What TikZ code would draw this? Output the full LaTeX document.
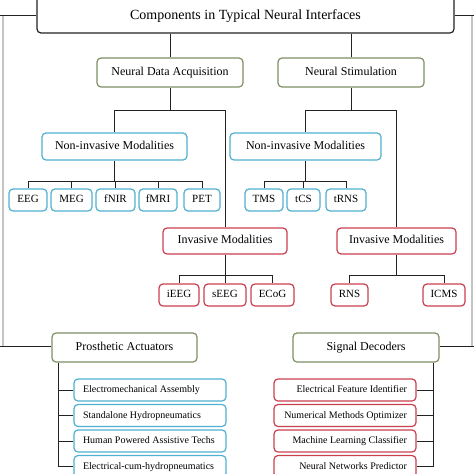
\documentclass[tikz,border=0pt]{standalone}
\usepackage{fontspec}
\setmainfont{Liberation Serif}
\definecolor{grn}{HTML}{7D8F63}
\definecolor{blu}{HTML}{4FB0D0}
\definecolor{rd}{HTML}{C9404F}
\definecolor{lnk}{HTML}{222222}
\definecolor{sidegray}{HTML}{C4C4C4}
\newcommand{\lbtext}[1]{\makebox[134pt][l]{#1}}
\newcommand{\rbtext}[1]{\makebox[124pt][r]{#1}}
\begin{document}
\begin{tikzpicture}[x=1pt,y=-1pt,
  bx/.style={draw, rounded corners=4pt, line width=1.2pt, fill=white, inner sep=0pt, text height=0.7em, text depth=0.2em},
  gbox/.style={bx, draw=grn, minimum height=29pt, font=\fontsize{12}{14}\selectfont},
  bbox/.style={bx, draw=blu, minimum height=27pt, font=\fontsize{12}{14}\selectfont},
  rbox/.style={bx, draw=rd, minimum height=26pt, font=\fontsize{12}{14}\selectfont},
  bleaf/.style={bx, draw=blu, minimum height=22pt, font=\fontsize{11}{13}\selectfont},
  rleaf/.style={bx, draw=rd, minimum height=22pt, font=\fontsize{11}{13}\selectfont},
  lbul/.style={bx, draw=blu, minimum height=22pt, minimum width=152pt, inner xsep=9pt, font=\fontsize{10}{12}\selectfont},
  rbul/.style={bx, draw=rd, minimum height=22pt, minimum width=142pt, inner xsep=9pt, font=\fontsize{10}{12}\selectfont},
  conn/.style={draw=lnk, line width=1pt},
  side/.style={draw=sidegray, line width=1.6pt}]
\useasboundingbox (0,0) rectangle (474,474);
\clip (0,0) rectangle (474,474);

% top box
\node[bx, draw=lnk, minimum width=417pt, minimum height=60pt] (top) at (245.5,3) {};
\node[font=\fontsize{14}{16}\selectfont, inner sep=0pt] (toptitle) at (245.5,16) {Components in Typical Neural Interfaces};

% level 1
\node[gbox, minimum width=146pt] (nda) at (170,72.5) {Neural Data Acquisition};
\node[gbox, minimum width=146pt] (ns) at (351,72.5) {Neural Stimulation};

% level 2
\node[bbox, minimum width=145pt] (ni1) at (114.5,146.5) {Non-invasive Modalities};
\node[bbox, minimum width=151pt] (ni2) at (305.5,146.5) {Non-invasive Modalities};
\node[rbox, minimum width=124pt] (inv1) at (225,241) {Invasive Modalities};
\node[rbox, minimum width=119pt] (inv2) at (396.5,241) {Invasive Modalities};

% leaves row 1
\node[bleaf, minimum width=38pt] (eeg) at (28,200) {EEG};
\node[bleaf, minimum width=41pt] (meg) at (71.5,200) {MEG};
\node[bleaf, minimum width=39pt] (fnir) at (115.5,200) {fNIR};
\node[bleaf, minimum width=38pt] (fmri) at (158,200) {fMRI};
\node[bleaf, minimum width=36pt] (pet) at (202,200) {PET};
\node[bleaf, minimum width=38pt] (tms) at (264,200) {TMS};
\node[bleaf, minimum width=33pt] (tcs) at (303.5,200) {tCS};
\node[bleaf, minimum width=40pt] (trns) at (346,200) {tRNS};

% leaves row 2
\node[rleaf, minimum width=40pt] (ieeg) at (179,295) {iEEG};
\node[rleaf, minimum width=42pt] (seeg) at (225,295) {sEEG};
\node[rleaf, minimum width=43pt] (ecog) at (272.5,295) {ECoG};
\node[rleaf, minimum width=37pt] (rns) at (349.5,295) {RNS};
\node[rleaf, minimum width=42pt] (icms) at (444,295) {ICMS};

% bottom groups
\node[gbox, minimum width=145pt] (pa) at (124.5,347.5) {Prosthetic Actuators};
\node[gbox, minimum width=146pt] (sd) at (366,347.5) {Signal Decoders};

\node[lbul] (pa1) at (150,390) {\lbtext{Electromechanical Assembly}};
\node[lbul] (pa2) at (150,415.5) {\lbtext{Standalone Hydropneumatics}};
\node[lbul] (pa3) at (150,441) {\lbtext{Human Powered Assistive Techs}};
\node[lbul] (pa4) at (150,466.5) {\lbtext{Electrical-cum-hydropneumatics}};

\node[rbul] (sd1) at (345,390) {\rbtext{Electrical Feature Identifier}};
\node[rbul] (sd2) at (345,415.5) {\rbtext{Numerical Methods Optimizer}};
\node[rbul] (sd3) at (345,441) {\rbtext{Machine Learning Classifier}};
\node[rbul] (sd4) at (345,466.5) {\rbtext{Neural Networks Predictor}};

% coordinates
\coordinate (b1) at (170,110);
\coordinate (b2) at (351,110);
\coordinate (b3) at (114.5,181);
\coordinate (b4) at (305.5,181);
\coordinate (b5) at (225,275);
\coordinate (b6) at (396.5,275);
\coordinate (pav) at (58,466.5);
\coordinate (sdv) at (433,466.5);
\coordinate (lt) at (0,15);
\coordinate (lb) at (0,346.5);
\coordinate (rt) at (474,15);
\coordinate (rb) at (474,346);
\coordinate (lgt) at (3,15);
\coordinate (lgb) at (3,346.5);
\coordinate (rgt) at (472,15);
\coordinate (rgb) at (472,346);

% side frame
\path[side] (lgt) -- (lgb);
\path[side] (rgt) -- (rgb);

% top to level 1
\path[conn] (top.south -| nda) -- (nda.north);
\path[conn] (top.south -| ns) -- (ns.north);
% nda branch
\path[conn] (nda.south) -- (b1);
\path[conn] (b1 -| ni1) -- (b1 -| inv1);
\path[conn] (b1 -| ni1) -- (ni1.north);
\path[conn] (b1 -| inv1) -- (inv1.north);
% ns branch
\path[conn] (ns.south) -- (b2);
\path[conn] (b2 -| ni2) -- (b2 -| inv2);
\path[conn] (b2 -| ni2) -- (ni2.north);
\path[conn] (b2 -| inv2) -- (inv2.north);
% ni1 leaves
\path[conn] (ni1.south) -- (b3);
\path[conn] (b3 -| eeg) -- (b3 -| pet);
\foreach \n in {eeg,meg,fnir,fmri,pet} \path[conn] (b3 -| \n) -- (\n.north);
% ni2 leaves
\path[conn] (ni2.south) -- (b4);
\path[conn] (b4 -| tms) -- (b4 -| trns);
\foreach \n in {tms,tcs,trns} \path[conn] (b4 -| \n) -- (\n.north);
% inv1 leaves
\path[conn] (inv1.south) -- (b5);
\path[conn] (b5 -| ieeg) -- (b5 -| ecog);
\foreach \n in {ieeg,seeg,ecog} \path[conn] (b5 -| \n) -- (\n.north);
% inv2 leaves
\path[conn] (inv2.south) -- (b6);
\path[conn] (b6 -| rns) -- (b6 -| icms);
\foreach \n in {rns,icms} \path[conn] (b6 -| \n) -- (\n.north);
% bullets
\path[conn] (pa.south -| pav) -- (pav);
\foreach \n in {pa1,pa2,pa3,pa4} \path[conn] (\n.west -| pav) -- (\n.west);
\path[conn] (sd.south -| sdv) -- (sdv);
\foreach \n in {sd1,sd2,sd3,sd4} \path[conn] (\n.east -| sdv) -- (\n.east);
% side links
\path[conn] (top.west |- lt) -- (lt);
\path[conn] (top.east |- rt) -- (rt);
\path[conn] (pa.west |- lb) -- (lb);
\path[conn] (sd.east |- rb) -- (rb);
\end{tikzpicture}
\end{document}
